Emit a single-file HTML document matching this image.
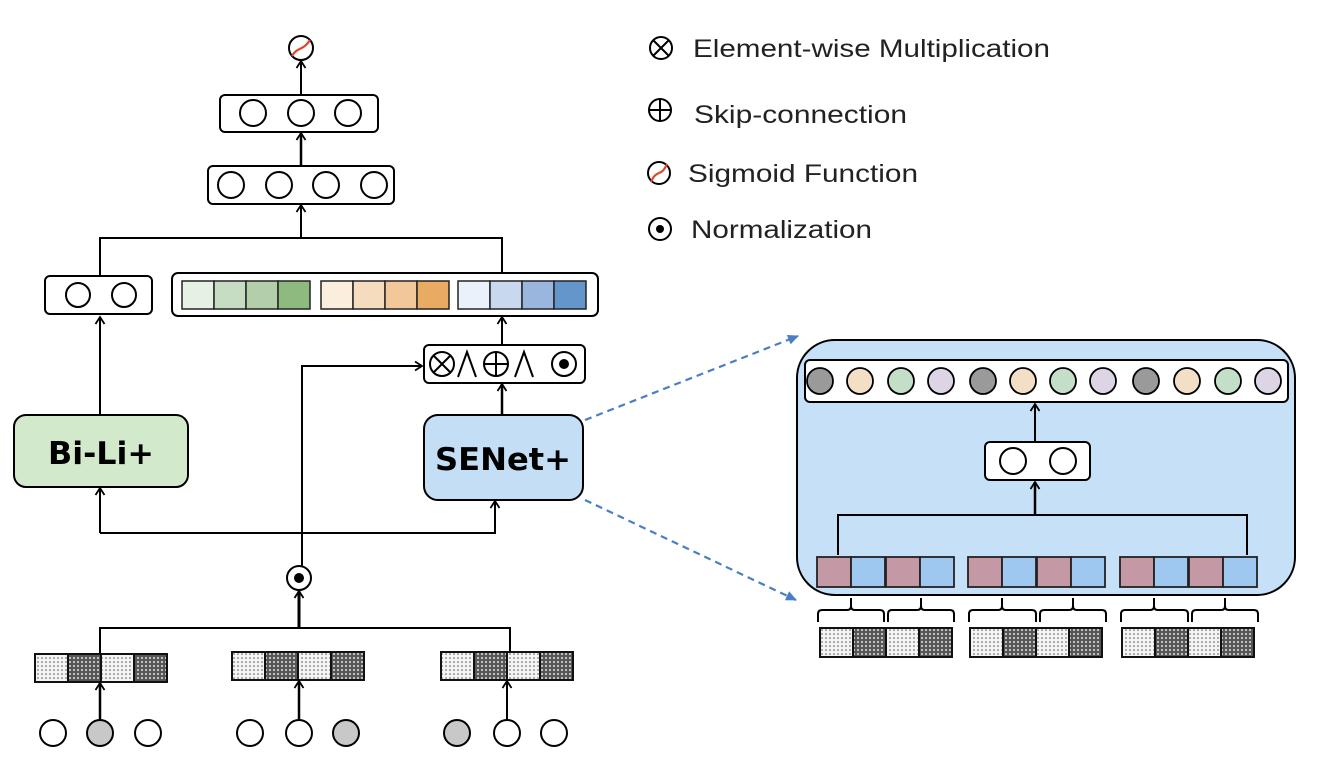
<!DOCTYPE html>
<html><head><meta charset="utf-8"><style>html,body{margin:0;padding:0;background:#fff}svg{display:block}</style></head>
<body>
<svg width="1322" height="778" viewBox="0 0 1322 778" xmlns="http://www.w3.org/2000/svg" font-family="Liberation Sans, sans-serif">
<defs>
<marker id="ah" markerWidth="12" markerHeight="12" refX="10" refY="6" orient="auto" markerUnits="userSpaceOnUse" viewBox="0 0 12 12" overflow="visible">
<path d="M3,1.5 L10,6 L3,10.5" fill="none" stroke="#000" stroke-width="1.8"/></marker>
<marker id="bh" markerWidth="12" markerHeight="12" refX="10" refY="5" orient="auto" markerUnits="userSpaceOnUse" viewBox="0 0 12 10">
<path d="M0,0 L11,5 L0,10 z" fill="#4a7fc1"/></marker>
<pattern id="pl" width="4" height="4" patternUnits="userSpaceOnUse"><rect width="4" height="4" fill="#f4f4f4"/><circle cx="2" cy="2" r="0.8" fill="#555"/></pattern>
<pattern id="pd" width="4" height="4" patternUnits="userSpaceOnUse"><rect width="4" height="4" fill="#555"/><circle cx="2" cy="2" r="1.1" fill="#ccc"/></pattern>
</defs>
<g stroke="#000" stroke-width="2" fill="none">
<circle cx="301" cy="48" r="12" fill="#fff"/>
<path d="M292,56 C298,46 302,52 310,40" stroke="#e0442c" stroke-width="2.2"/>
<line x1="301" y1="95" x2="301" y2="61" marker-end="url(#ah)"/>
<rect x="220" y="95" width="158" height="37" rx="5" fill="#fff"/>
<circle cx="253" cy="113" r="13"/><circle cx="301" cy="113" r="13"/><circle cx="348" cy="113" r="13"/>
<line x1="301" y1="166" x2="301" y2="133" stroke-width="2.5" marker-end="url(#ah)"/>
<rect x="208" y="166" width="186" height="38" rx="5" fill="#fff"/>
<circle cx="231" cy="185" r="13"/><circle cx="279" cy="185" r="13"/><circle cx="326" cy="185" r="13"/><circle cx="374" cy="185" r="13"/>
<line x1="301" y1="238" x2="301" y2="205" marker-end="url(#ah)"/>
<polyline points="100,276 100,238 502,238 502,273"/>
<rect x="45" y="276" width="107" height="38" rx="5" fill="#fff"/>
<circle cx="78" cy="295" r="12"/><circle cx="124" cy="295" r="12"/>
<rect x="172" y="273" width="426" height="43" rx="6" fill="#fff"/>
</g>
<g stroke="#222" stroke-width="1.5">
<rect x="182" y="281" width="32" height="28" fill="#e6f0e4"/><rect x="214" y="281" width="32" height="28" fill="#c7ddc3"/><rect x="246" y="281" width="32" height="28" fill="#b2cfa9"/><rect x="278" y="281" width="32" height="28" fill="#8fba7f"/>
<rect x="321" y="281" width="32" height="28" fill="#fbeedc"/><rect x="353" y="281" width="32" height="28" fill="#f6dcbf"/><rect x="385" y="281" width="32" height="28" fill="#f2c89a"/><rect x="417" y="281" width="32" height="28" fill="#e9aa63"/>
<rect x="458" y="281" width="32" height="28" fill="#eaf1fb"/><rect x="490" y="281" width="32" height="28" fill="#c8d8ee"/><rect x="522" y="281" width="32" height="28" fill="#9ab6df"/><rect x="554" y="281" width="32" height="28" fill="#6496cc"/>
</g>
<g stroke="#000" stroke-width="2" fill="none">
<line x1="502" y1="345" x2="502" y2="317" marker-end="url(#ah)"/>
<rect x="424" y="345" width="161" height="38" rx="5" fill="#fff"/>
<circle cx="442" cy="364" r="12"/><path d="M433.5,355.5 L450.5,372.5 M450.5,355.5 L433.5,372.5"/>
<path d="M458,377 L467,352 L476,377"/>
<circle cx="496" cy="364" r="12"/><path d="M484,364 H508 M496,352 V376"/>
<path d="M515,377 L524,352 L533,377"/>
<circle cx="564" cy="364" r="12"/><circle cx="564" cy="364" r="4" fill="#000"/>
<polyline points="302,575 302,366 422,366" marker-end="url(#ah)"/>
<line x1="100" y1="415" x2="100" y2="317" marker-end="url(#ah)"/>
<line x1="502" y1="415" x2="502" y2="384" stroke-width="2.5" marker-end="url(#ah)"/>
<rect x="14" y="415" width="174" height="72" rx="12" fill="#d2e9cb"/>
<rect x="424" y="415" width="159" height="85" rx="14" fill="#c4def5"/>
<line x1="100" y1="533" x2="100" y2="488" marker-end="url(#ah)"/>
<polyline points="100,533 495,533 495,501" marker-end="url(#ah)"/>
<circle cx="299" cy="578" r="12" fill="#fff"/><circle cx="299" cy="578" r="4" fill="#000"/>
<line x1="299" y1="628" x2="299" y2="591" stroke-width="3" marker-end="url(#ah)"/>
<polyline points="100,654 100,628 510,628 510,652"/>
</g>
<text x="101" y="464" font-size="31" font-weight="bold" text-anchor="middle" font-family="DejaVu Sans, sans-serif" textLength="106" lengthAdjust="spacingAndGlyphs">Bi-Li+</text>
<text x="503" y="470" font-size="31" font-weight="bold" text-anchor="middle" font-family="DejaVu Sans, sans-serif" textLength="136" lengthAdjust="spacingAndGlyphs">SENet+</text>
<g stroke="#111" stroke-width="2">
<rect x="35" y="654" width="33" height="28" fill="url(#pl)"/><rect x="68" y="654" width="33" height="28" fill="url(#pd)"/><rect x="101" y="654" width="33" height="28" fill="url(#pl)"/><rect x="134" y="654" width="33" height="28" fill="url(#pd)"/>
<rect x="232" y="652" width="33" height="28" fill="url(#pl)"/><rect x="265" y="652" width="33" height="28" fill="url(#pd)"/><rect x="298" y="652" width="33" height="28" fill="url(#pl)"/><rect x="331" y="652" width="33" height="28" fill="url(#pd)"/>
<rect x="441" y="652" width="33" height="28" fill="url(#pl)"/><rect x="474" y="652" width="33" height="28" fill="url(#pd)"/><rect x="507" y="652" width="33" height="28" fill="url(#pl)"/><rect x="540" y="652" width="33" height="28" fill="url(#pd)"/>
</g>
<g stroke="#000" stroke-width="2" fill="none">
<line x1="100" y1="720" x2="100" y2="683" stroke-width="2.5" marker-end="url(#ah)"/>
<line x1="299" y1="720" x2="299" y2="681" stroke-width="2.5" marker-end="url(#ah)"/>
<line x1="507" y1="720" x2="507" y2="681" marker-end="url(#ah)"/>
<circle cx="53" cy="733" r="13" fill="#fff"/><circle cx="100" cy="733" r="13" fill="#c8c8c8"/><circle cx="148" cy="733" r="13" fill="#fff"/>
<circle cx="250" cy="733" r="13" fill="#fff"/><circle cx="299" cy="733" r="13" fill="#fff"/><circle cx="346" cy="733" r="13" fill="#c8c8c8"/>
<circle cx="457" cy="733" r="13" fill="#c8c8c8"/><circle cx="507" cy="733" r="13" fill="#fff"/><circle cx="554" cy="733" r="13" fill="#fff"/>
</g>
<line x1="585" y1="420" x2="798" y2="336" stroke="#4a7fc1" stroke-width="2.2" stroke-dasharray="7,5" marker-end="url(#bh)"/>
<line x1="585" y1="500" x2="796" y2="600" stroke="#4a7fc1" stroke-width="2.2" stroke-dasharray="7,5" marker-end="url(#bh)"/>
<g stroke="#000" stroke-width="2" fill="none">
<rect x="797" y="340" width="498" height="255" rx="38" fill="#c5e0f7"/>
<rect x="805" y="360" width="483" height="42" rx="5" fill="#fff"/>
</g>
<g stroke="#000" stroke-width="1.8">
<circle cx="820" cy="381" r="13" fill="#9a9a9a"/><circle cx="860" cy="381" r="13" fill="#f3dfc6"/><circle cx="901" cy="381" r="13" fill="#c4dfc8"/><circle cx="941" cy="381" r="13" fill="#ddd5e6"/>
<circle cx="983" cy="381" r="13" fill="#9a9a9a"/><circle cx="1023" cy="381" r="13" fill="#f3dfc6"/><circle cx="1063" cy="381" r="13" fill="#c4dfc8"/><circle cx="1103" cy="381" r="13" fill="#ddd5e6"/>
<circle cx="1146" cy="381" r="13" fill="#9a9a9a"/><circle cx="1187" cy="381" r="13" fill="#f3dfc6"/><circle cx="1228" cy="381" r="13" fill="#c4dfc8"/><circle cx="1268" cy="381" r="13" fill="#ddd5e6"/>
</g>
<g stroke="#000" stroke-width="2" fill="none">
<line x1="1035" y1="442" x2="1035" y2="404" marker-end="url(#ah)"/>
<rect x="985" y="442" width="105" height="38" rx="5" fill="#fff"/>
<circle cx="1013" cy="461" r="13"/><circle cx="1063" cy="461" r="13"/>
<line x1="1035" y1="515" x2="1035" y2="482" stroke-width="2.5" marker-end="url(#ah)"/>
<polyline points="838,555 838,515 1247,515 1247,555"/>
</g>
<g stroke="#222" stroke-width="1.8">
<rect x="817" y="557" width="34" height="30" fill="#c498a5"/><rect x="851" y="557" width="34" height="30" fill="#9ec8f0"/><rect x="886" y="557" width="34" height="30" fill="#c498a5"/><rect x="920" y="557" width="34" height="30" fill="#9ec8f0"/>
<rect x="968" y="557" width="34" height="30" fill="#c498a5"/><rect x="1002" y="557" width="34" height="30" fill="#9ec8f0"/><rect x="1037" y="557" width="34" height="30" fill="#c498a5"/><rect x="1071" y="557" width="34" height="30" fill="#9ec8f0"/>
<rect x="1120" y="557" width="34" height="30" fill="#c498a5"/><rect x="1154" y="557" width="34" height="30" fill="#9ec8f0"/><rect x="1189" y="557" width="34" height="30" fill="#c498a5"/><rect x="1223" y="557" width="34" height="30" fill="#9ec8f0"/>
</g>
<g stroke="#000" stroke-width="2" fill="none">
<path d="M818,622 V614 Q818,610 822,610 H847 Q851,610 851,606 V598 M851,606 Q851,610 855,610 H880 Q884,610 884,614 V622"/>
<path d="M888,622 V614 Q888,610 892,610 H917 Q921,610 921,606 V598 M921,606 Q921,610 925,610 H950 Q954,610 954,614 V622"/>
<path d="M969,622 V614 Q969,610 973,610 H998 Q1002,610 1002,606 V598 M1002,606 Q1002,610 1006,610 H1032 Q1036,610 1036,614 V622"/>
<path d="M1040,622 V614 Q1040,610 1044,610 H1069 Q1073,610 1073,606 V598 M1073,606 Q1073,610 1077,610 H1102 Q1106,610 1106,614 V622"/>
<path d="M1121,622 V614 Q1121,610 1125,610 H1150 Q1154,610 1154,606 V598 M1154,606 Q1154,610 1158,610 H1184 Q1188,610 1188,614 V622"/>
<path d="M1192,622 V614 Q1192,610 1196,610 H1221 Q1225,610 1225,606 V598 M1225,606 Q1225,610 1229,610 H1254 Q1258,610 1258,614 V622"/>
</g>
<g stroke="#111" stroke-width="2">
<rect x="820" y="628" width="33" height="29" fill="url(#pl)"/><rect x="853" y="628" width="33" height="29" fill="url(#pd)"/><rect x="886" y="628" width="33" height="29" fill="url(#pl)"/><rect x="919" y="628" width="33" height="29" fill="url(#pd)"/>
<rect x="970" y="628" width="33" height="29" fill="url(#pl)"/><rect x="1003" y="628" width="33" height="29" fill="url(#pd)"/><rect x="1036" y="628" width="33" height="29" fill="url(#pl)"/><rect x="1069" y="628" width="33" height="29" fill="url(#pd)"/>
<rect x="1122" y="628" width="33" height="29" fill="url(#pl)"/><rect x="1155" y="628" width="33" height="29" fill="url(#pd)"/><rect x="1188" y="628" width="33" height="29" fill="url(#pl)"/><rect x="1221" y="628" width="33" height="29" fill="url(#pd)"/>
</g>
<g stroke="#000" stroke-width="2" fill="none">
<circle cx="661" cy="48" r="11"/><path d="M653,40 L669,56 M669,40 L653,56"/>
<circle cx="660" cy="110" r="11"/><path d="M649,110 H671 M660,99 V121"/>
<circle cx="659" cy="173" r="11"/><path d="M651,182 C657,168 661,178 667,164" stroke="#e0442c" stroke-width="2.2"/>
<circle cx="660" cy="229" r="11"/><circle cx="660" cy="229" r="4" fill="#000" stroke="none"/>
</g>
<g font-size="25" fill="#222">
<text x="693" y="57" textLength="357" lengthAdjust="spacingAndGlyphs">Element-wise Multiplication</text>
<text x="694" y="123" textLength="213" lengthAdjust="spacingAndGlyphs">Skip-connection</text>
<text x="688" y="182" textLength="230" lengthAdjust="spacingAndGlyphs">Sigmoid Function</text>
<text x="691" y="238" textLength="181" lengthAdjust="spacingAndGlyphs">Normalization</text>
</g>
</svg>
</body></html>
